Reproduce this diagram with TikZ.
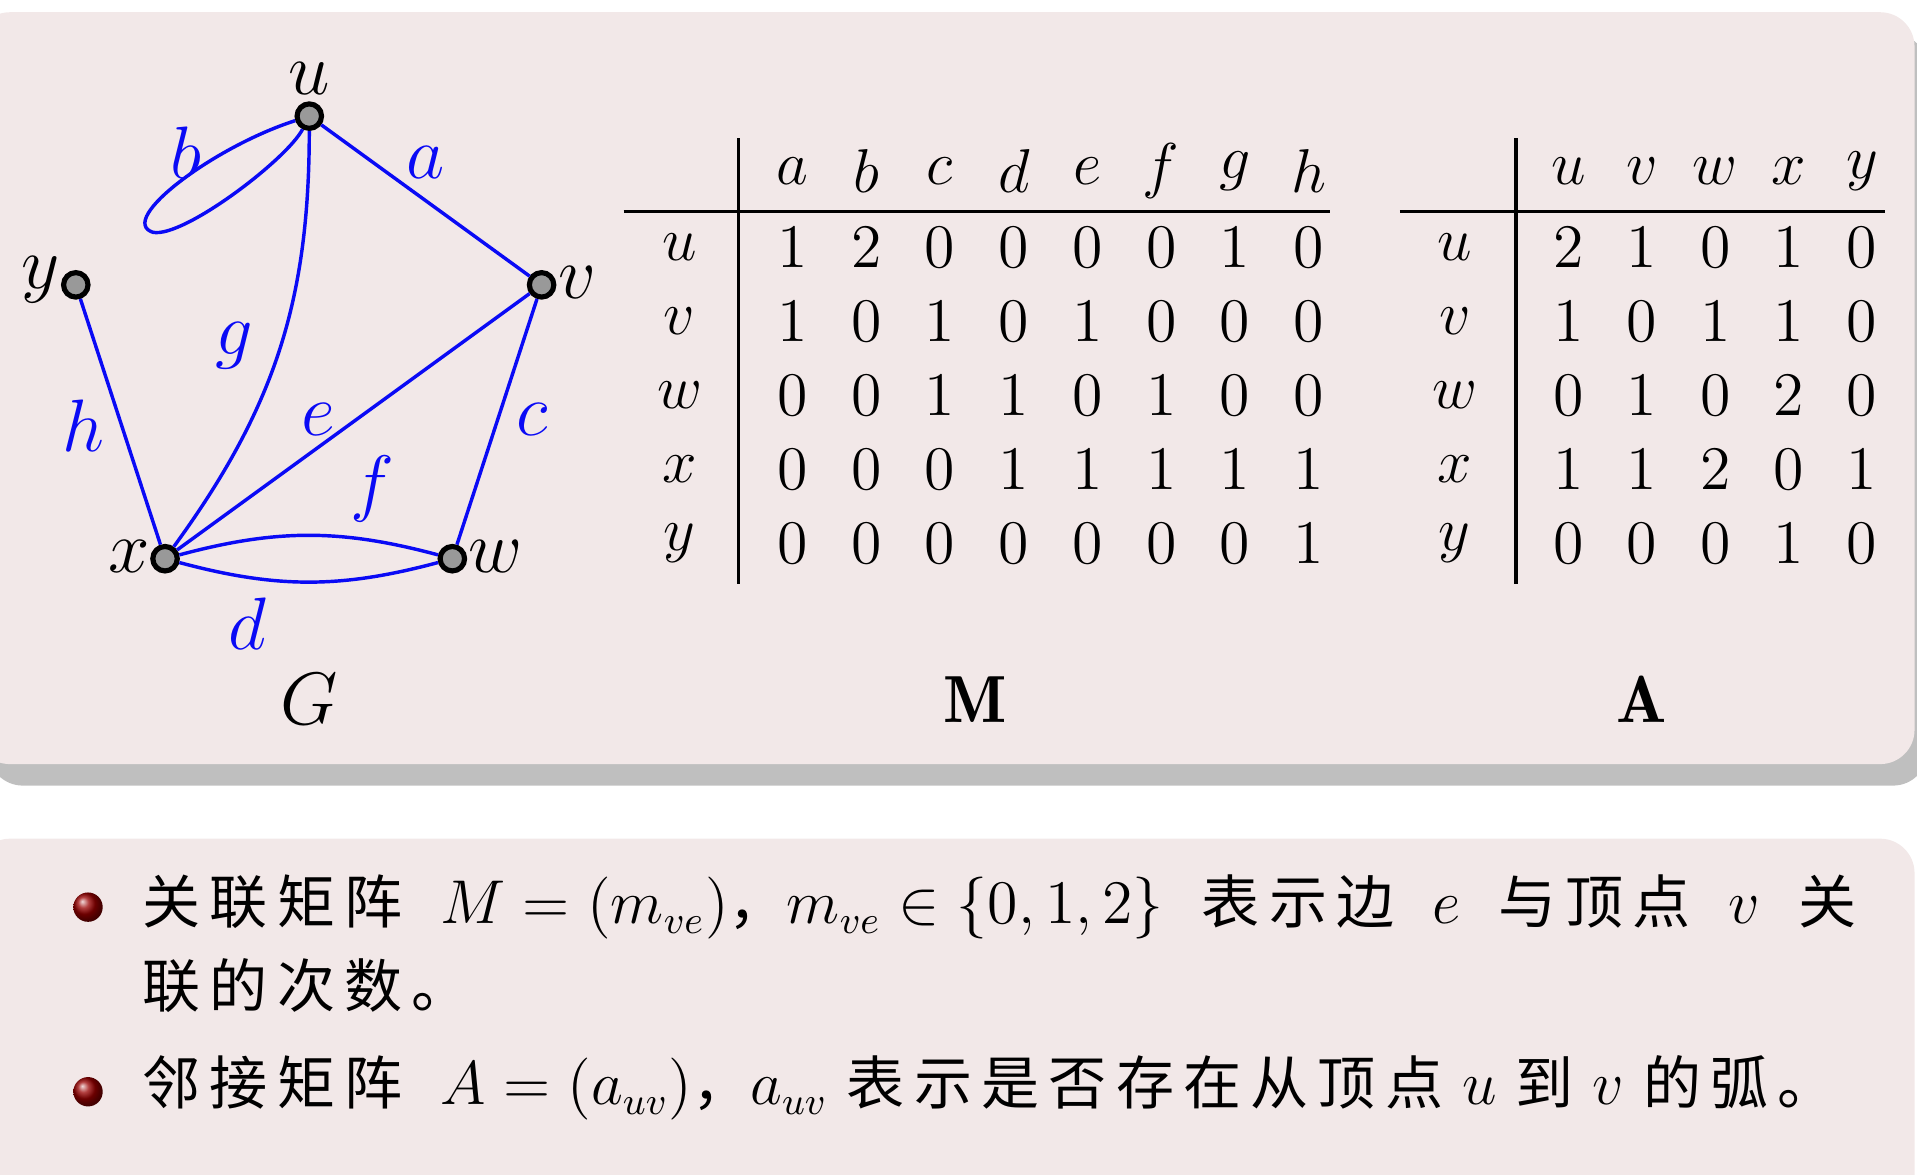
\documentclass[tikz,border=0pt]{standalone}
\usepackage{fontspec}
\newfontfamily\cjk[LetterSpace=16]{Noto Sans CJK SC}
\usetikzlibrary{shadows}
\definecolor{panel}{RGB}{242,232,232}
\definecolor{edgeblue}{RGB}{10,10,245}
\tikzset{
 vtx/.style={circle,fill=gray!80,draw=black,line width=1.2pt,inner sep=0pt,minimum size=0.2cm},
 ed/.style={edgeblue,line width=0.8pt},
 elab/.style={edgeblue,font=\fontsize{16}{18}\selectfont},
 vlab/.style={font=\fontsize{16}{18}\selectfont},
 ent/.style={font=\fontsize{15.5}{18}\selectfont},
 note/.style={anchor=west,inner sep=0pt,font=\fontsize{13.5}{16}\selectfont},
 ball/.style={circle,ball color=red!60!black,inner sep=0pt,minimum size=0.24cm},
}
\begin{document}
\begin{tikzpicture}[x=0.01cm,y=-0.01cm]
 \useasboundingbox (0,0) rectangle (1568,961);
 \fill[panel,rounded corners=8pt,drop shadow={shadow xshift=3pt,shadow yshift=-5pt,opacity=.5}] (-20,10) rectangle (1566,625);
 \fill[panel,rounded corners=8pt] (-20,686) rectangle (1566,990);

 % graph G
 \node[vtx] (u) at (253,95) {};
 \node[vtx] (v) at (443,233) {};
 \node[vtx] (y) at (62,233) {};
 \node[vtx] (x) at (135,457) {};
 \node[vtx] (w) at (370,457) {};
 \node[vlab] (lu) at (253,64) {$u$};
 \node[vlab] (lv) at (472,231) {$v$};
 \node[vlab] (ly) at (33,229) {$y$};
 \node[vlab] (lx) at (106,455) {$x$};
 \node[vlab] (lw) at (405,455) {$w$};

 \draw[ed] (u) -- (v);
 \draw[ed] (u) .. controls (175,120) and (95,180) .. (125,190) .. controls (150,195) and (235,130) .. (u);
 \draw[ed] (u) to[bend left=18] (x);
 \draw[ed] (x) -- (v);
 \draw[ed] (v) -- (w);
 \draw[ed] (y) -- (x);
 \draw[ed] (x) to[bend left=15] (w);
 \draw[ed] (x) to[bend right=15] (w);

 \node[elab] (la) at (348,133) {$a$};
 \node[elab] (lb) at (152,125) {$b$};
 \node[elab] (lg) at (192,283) {$g$};
 \node[elab] (le) at (260,343) {$e$};
 \node[elab] (lc) at (435,343) {$c$};
 \node[elab] (lh) at (68,348) {$h$};
 \node[elab] (lf) at (305,400) {$f$};
 \node[elab] (ld) at (202,510) {$d$};
 \node[vlab] (G) at (253,572) {$G$};

 % incidence matrix M
 \foreach \c [count=\i] in {a,b,c,d,e,f,g,h}
  \node[ent] (mh\c) at (588+60.3*\i,140) {$\c$};
 \foreach \r/\vals [count=\j] in {u/{1,2,0,0,0,0,1,0},v/{1,0,1,0,1,0,0,0},w/{0,0,1,1,0,1,0,0},x/{0,0,0,1,1,1,1,1},y/{0,0,0,0,0,0,0,1}}{
  \node[ent] (mr\r) at (556,142+60.5*\j) {$\r$};
  \foreach \e [count=\i] in \vals
   \node[ent] (m\r\i) at (588+60.3*\i,142+60.5*\j) {$\e$};
 }
 \draw[line width=0.9pt] (604,113) -- (604,478);
 \draw[line width=0.9pt] (510,173) -- (1088,173);
 \node[ent] (M) at (798,572) {$\mathbf{M}$};

 % adjacency matrix A
 \foreach \c [count=\i] in {u,v,w,x,y}
  \node[ent] (ah\c) at (1223+60*\i,140) {$\c$};
 \foreach \r/\vals [count=\j] in {u/{2,1,0,1,0},v/{1,0,1,1,0},w/{0,1,0,2,0},x/{1,1,2,0,1},y/{0,0,0,1,0}}{
  \node[ent] (ar\r) at (1190,142+60.5*\j) {$\r$};
  \foreach \e [count=\i] in \vals
   \node[ent] (a\r\i) at (1223+60*\i,142+60.5*\j) {$\e$};
 }
 \draw[line width=0.9pt] (1240,113) -- (1240,478);
 \draw[line width=0.9pt] (1145,173) -- (1542,173);
 \node[ent] (A) at (1343,572) {$\mathbf{A}$};

 % notes
 \node[ball] (b1) at (72,742) {};
 \node[ball] (b2) at (72,893) {};
 \node[note] (t1) at (116,742)
  {{\cjk 关联矩阵}\ \ $M=(m_{ve})${\cjk ，}$m_{ve}\in\{0,1,2\}$\ \ {\cjk 表示边}\ \ $e$\ \ {\cjk 与顶点}\ \ $v$\ \ {\cjk 关}};
 \node[note] (t2) at (116,806) {\cjk 联的次数。};
 \node[note] (t3) at (116,890)
  {{\cjk 邻接矩阵}\ \ $A=(a_{uv})${\cjk ，}$a_{uv}$\ {\cjk 表示是否存在从顶点}\ $u$\ {\cjk 到}\ $v$\ {\cjk 的弧。}};
\end{tikzpicture}
\end{document}
